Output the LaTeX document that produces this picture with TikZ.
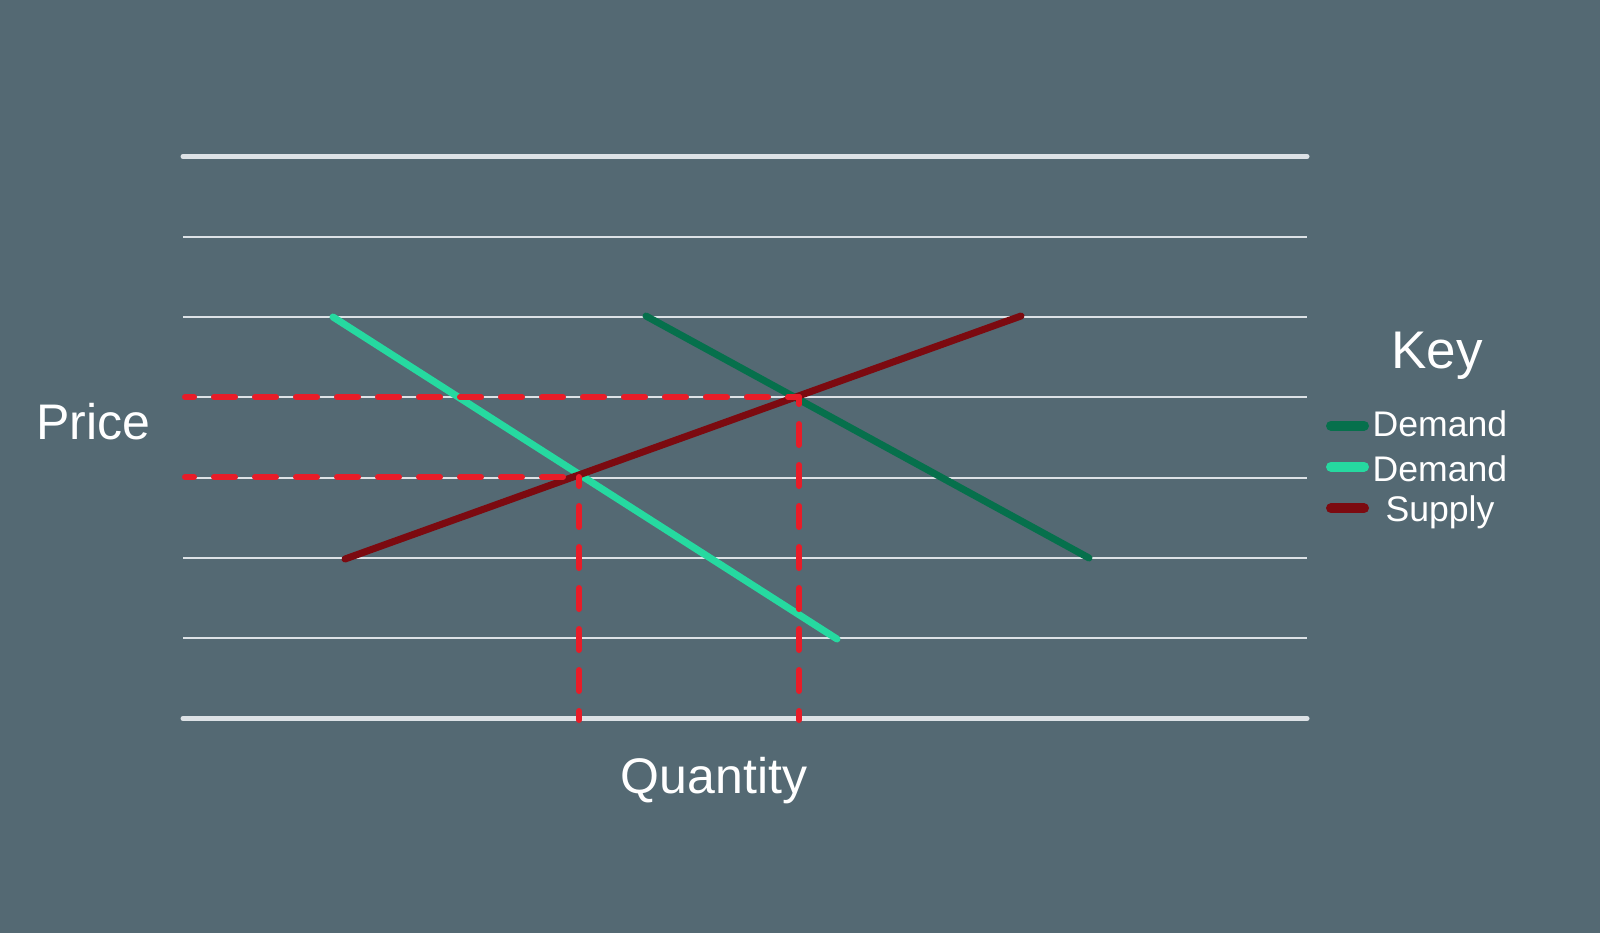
\documentclass[tikz,border=0pt]{standalone}
\usepackage{fontspec}
\setmainfont{Liberation Sans}
\definecolor{bgc}{HTML}{546973}
\definecolor{gridc}{HTML}{DDE2E6}
\definecolor{dgreen}{HTML}{06704C}
\definecolor{lgreen}{HTML}{26D9A0}
\definecolor{dred}{HTML}{7C0A10}
\definecolor{rdash}{HTML}{E81C28}
\begin{document}
\begin{tikzpicture}[x=0.5pt,y=-0.5pt,
  thickgrid/.style={draw=gridc,line width=2.5pt,line cap=round},
  thingrid/.style={draw=gridc,line width=1pt},
  curve/.style={line width=3.5pt,line cap=round},
  guide/.style={draw=rdash,line width=3pt,line cap=round,dash pattern=on 10.5pt off 10pt,dash phase=6pt},
  swatch/.style={line width=5pt,line cap=round},
  lbl/.style={text=white,inner sep=0pt,anchor=base}]
\fill[bgc] (0,0) rectangle (1600,933);
\useasboundingbox (0,0) rectangle (1600,933);
% grid
\foreach \y in {236.7,316.9,397,477.5,557.7,637.9}
  \draw[thingrid] (183,\y) -- (1307,\y);
\draw[thickgrid] (183,156.5) -- (1307,156.5);
\draw[thickgrid] (183,718.5) -- (1307,718.5);
% curve end points
\coordinate (lgA) at (333,317);
\coordinate (lgB) at (837,639);
\coordinate (dgA) at (646,316);
\coordinate (dgB) at (1089,558);
\coordinate (sA) at (345,559);
\coordinate (sB) at (1021,316);
\coordinate (e1) at (579,477);
\coordinate (e2) at (799,397);
\coordinate (h1) at (185,477);
\coordinate (h2) at (185,397);
\coordinate (v1) at (579,720);
\coordinate (v2) at (799,720);
% curves
\draw[curve,draw=lgreen] (lgA) -- (lgB);
\draw[curve,draw=dgreen] (dgA) -- (dgB);
\draw[curve,draw=dred] (sA) -- (sB);
% guides
\draw[guide] (h2) -- (e2);
\draw[guide] (h1) -- (e1);
\draw[guide] (v1) -- (e1);
\draw[guide] (v2) -- (e2);
% labels
\node[lbl,font=\fontsize{25}{29}\selectfont] (price) at (93,439) {Price};
\node[lbl,font=\fontsize{25}{29}\selectfont] (qty) at (714,793) {Quantity};
\node[lbl,font=\fontsize{26.5}{30}\selectfont] (key) at (1437,368) {Key};
\node[lbl,font=\fontsize{17.8}{20}\selectfont] (kd1) at (1440,436) {Demand};
\node[lbl,font=\fontsize{17.8}{20}\selectfont] (kd2) at (1440,481.5) {Demand};
\node[lbl,font=\fontsize{17.8}{20}\selectfont] (ks) at (1440,521.5) {Supply};
% legend swatches
\coordinate (s1a) at (1331,425.7); \coordinate (s1b) at (1364,425.7);
\coordinate (s2a) at (1331,466.7); \coordinate (s2b) at (1364,466.7);
\coordinate (s3a) at (1331,508.3); \coordinate (s3b) at (1364,508.3);
\draw[swatch,draw=dgreen] (s1a) -- (s1b);
\draw[swatch,draw=lgreen] (s2a) -- (s2b);
\draw[swatch,draw=dred] (s3a) -- (s3b);
\end{tikzpicture}
\end{document}
